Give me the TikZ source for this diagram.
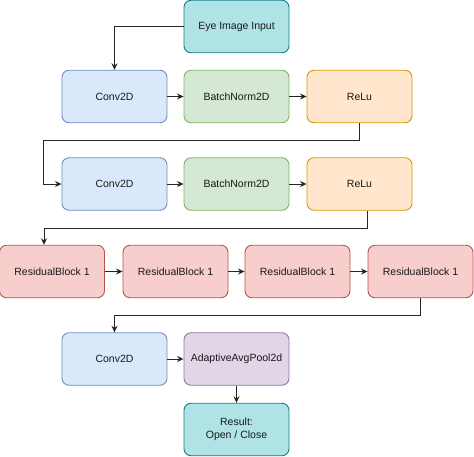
\documentclass[tikz,border=0pt]{standalone}
\usepackage{fontspec}
\setmainfont{Liberation Sans}
\usetikzlibrary{arrows.meta}
\definecolor{ioF}{HTML}{B0E3E6}\definecolor{ioD}{HTML}{0E8088}
\definecolor{cvF}{HTML}{DAE8FC}\definecolor{cvD}{HTML}{6C8EBF}
\definecolor{bnF}{HTML}{D5E8D4}\definecolor{bnD}{HTML}{82B366}
\definecolor{rlF}{HTML}{FFE6CC}\definecolor{rlD}{HTML}{D79B00}
\definecolor{rbF}{HTML}{F8CECC}\definecolor{rbD}{HTML}{B85450}
\definecolor{apF}{HTML}{E1D5E7}\definecolor{apD}{HTML}{9673A6}
\tikzset{box/.style={draw,rounded corners=7pt,line width=0.9pt,minimum width=105pt,minimum height=52.5pt,align=center,inner sep=2pt,text=black!90,font=\fontsize{10.5}{12.8}\selectfont},
io/.style={box,fill=ioF,draw=ioD},cv/.style={box,fill=cvF,draw=cvD},bn/.style={box,fill=bnF,draw=bnD},
rl/.style={box,fill=rlF,draw=rlD},rb/.style={box,fill=rbF,draw=rbD},ap/.style={box,fill=apF,draw=apD},
arr/.style={-{Stealth[length=6.5pt,width=6pt]},line width=0.9pt,draw=black!85}}

\begin{document}
\begin{tikzpicture}[x=1pt,y=-1pt]
\useasboundingbox (0,0)rectangle(474,456);
\node[io](inp)at(236.5,26.5){Eye Image Input};
\node[cv](c1)at(114.5,96.5){Conv2D};\node[bn](n1)at(236.5,96.5){BatchNorm2D};\node[rl](r1)at(359.5,96.5){ReLu};
\node[cv](c2)at(114.5,184){Conv2D};\node[bn](n2)at(236.5,184){BatchNorm2D};\node[rl](r2)at(359.5,184){ReLu};
\node[rb](b1)at(52,271.5){ResidualBlock 1};\node[rb](b2)at(175.5,271.5){ResidualBlock 1};
\node[rb](b3)at(297.5,271.5){ResidualBlock 1};\node[rb](b4)at(420.5,271.5){ResidualBlock 1};
\node[cv](c3)at(114.5,359){Conv2D};\node[ap](ap)at(236.5,359){AdaptiveAvgPool2d};
\node[io](res)at(236.5,429.5){Result:\\Open / Close};
\draw[arr](inp)-|(c1);
\draw[arr](c1)--(n1);\draw[arr](n1)--(r1);
\draw[arr](r1.south)--++(0,17.5)-|([xshift=-18pt]c2.west)--(c2.west);
\draw[arr](c2)--(n2);\draw[arr](n2)--(r2);
\draw[arr]([xshift=7.5pt]r2.south)--++(0,18)-|([xshift=-8pt]b1.north);
\draw[arr](b1)--(b2);\draw[arr](b2)--(b3);\draw[arr](b3)--(b4);
\draw[arr](b4.south)--++(0,17)-|(c3.north);
\draw[arr](c3)--(ap);\draw[arr](ap)--(res);
\end{tikzpicture}
\end{document}
